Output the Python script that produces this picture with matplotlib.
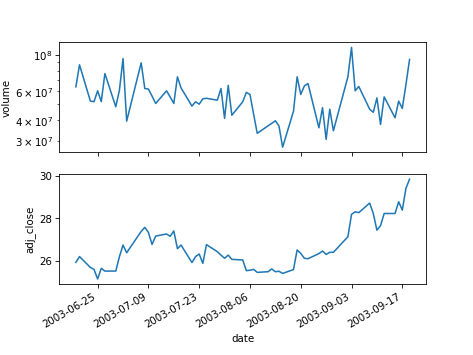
import matplotlib
matplotlib.use("Agg")
import matplotlib.pyplot as plt
import matplotlib.dates as mdates
import pandas as pd
import numpy as np

dates = [
    "2003-06-19", "2003-06-20", "2003-06-23", "2003-06-24", "2003-06-25", "2003-06-26", "2003-06-27",
    "2003-06-30", "2003-07-01", "2003-07-02", "2003-07-03",
    "2003-07-07", "2003-07-08", "2003-07-09", "2003-07-10", "2003-07-11",
    "2003-07-14", "2003-07-15", "2003-07-16", "2003-07-17", "2003-07-18",
    "2003-07-21", "2003-07-22", "2003-07-23", "2003-07-24", "2003-07-25",
    "2003-07-28", "2003-07-29", "2003-07-30", "2003-07-31", "2003-08-01",
    "2003-08-04", "2003-08-05", "2003-08-06", "2003-08-07", "2003-08-08",
    "2003-08-11", "2003-08-12", "2003-08-13", "2003-08-14", "2003-08-15",
    "2003-08-18", "2003-08-19", "2003-08-20", "2003-08-21", "2003-08-22",
    "2003-08-25", "2003-08-26", "2003-08-27", "2003-08-28", "2003-08-29",
    "2003-09-02", "2003-09-03", "2003-09-04", "2003-09-05",
    "2003-09-08", "2003-09-09", "2003-09-10", "2003-09-11", "2003-09-12",
    "2003-09-15", "2003-09-16", "2003-09-17", "2003-09-18", "2003-09-19",
]

volume = [
    6.4e7, 8.7e7, 5.24e7, 5.2e7, 6.05e7, 5.2e7, 7.7e7,
    4.84e7, 6.1e7, 9.5e7, 3.96e7,
    8.95e7, 6.25e7, 6.2e7, 5.62e7, 5.07e7,
    6.05e7, 5.55e7, 5.07e7, 7.36e7, 6.3e7,
    4.89e7, 5.19e7, 5.02e7, 5.41e7, 5.45e7,
    5.31e7, 6.25e7, 4.12e7, 6.53e7, 4.3e7,
    5.19e7, 5.92e7, 5.75e7, 4.37e7, 3.34e7,
    3.71e7, 3.84e7, 3.98e7, 3.7e7, 2.75e7,
    4.55e7, 7.36e7, 5.75e7, 6.48e7, 6.7e7,
    3.61e7, 4.78e7, 3.07e7, 4.68e7, 3.46e7,
    7.36e7, 1.11e8, 6.05e7, 6.43e7,
    4.68e7, 4.48e7, 5.48e7, 3.78e7, 5.56e7,
    4.15e7, 5.24e7, 4.73e7, 6.6e7, 9.38e7,
]

adj_close = [
    25.94, 26.21, 25.70, 25.61, 25.16, 25.66, 25.53,
    25.53, 26.20, 26.75, 26.39,
    27.39, 27.58, 27.34, 26.78, 27.17,
    27.27, 27.16, 27.41, 26.58, 26.75,
    25.93, 26.21, 26.33, 25.89, 26.77,
    26.44, 26.28, 26.13, 26.28, 26.08,
    26.05, 25.55, 25.57, 25.61, 25.47,
    25.50, 25.63, 25.50, 25.52, 25.42,
    25.60, 26.52, 26.36, 26.13, 26.11,
    26.35, 26.47, 26.31, 26.41, 26.41,
    27.14, 28.19, 28.31, 28.27,
    28.72, 28.23, 27.45, 27.66, 28.23,
    28.23, 28.78, 28.39, 29.41, 29.84,
]

tick_dates = ["2003-06-25", "2003-07-09", "2003-07-23", "2003-08-06",
              "2003-08-20", "2003-09-03", "2003-09-17"]

x = pd.to_datetime(dates)

fig, (ax1, ax2) = plt.subplots(2, 1, sharex=True, figsize=(6.4, 4.8), dpi=74)
ax1.plot(x, volume, color="#1f77b4")
ax1.set_yscale("log")
ax1.set_ylabel("volume")

ax2.plot(x, adj_close, color="#1f77b4")
ax2.set_ylabel("adj_close")
ax2.set_xlabel("date")

ax2.set_xticks(pd.to_datetime(tick_dates))
ax2.xaxis.set_major_formatter(mdates.DateFormatter("%Y-%m-%d"))
fig.autofmt_xdate()

fig.savefig("out.png", dpi=74)
